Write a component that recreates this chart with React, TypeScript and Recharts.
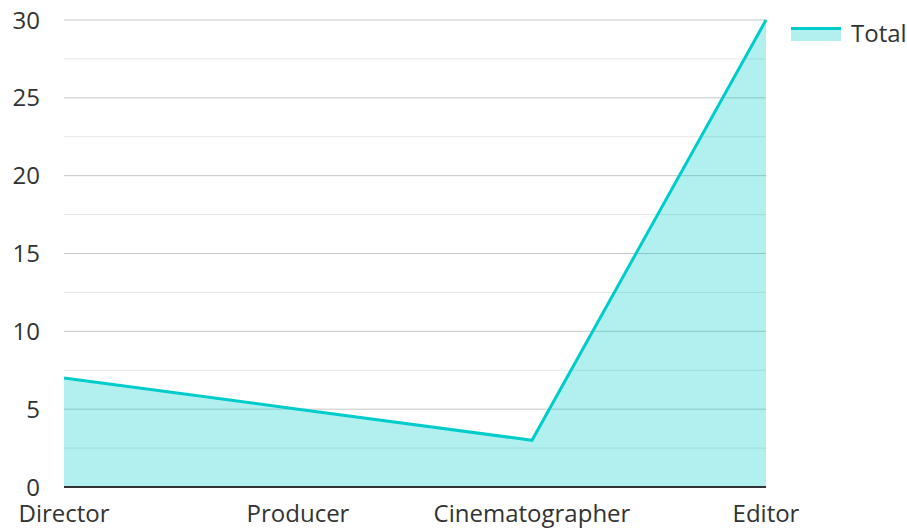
import { AreaChart, Area, XAxis, YAxis, CartesianGrid, Legend } from 'recharts';

const roles = ['Director', 'Producer', 'Cinematographer', 'Editor'];
const totals = [7, 5, 3, 30];
// major ticks every 5, light minor lines halfway between
const yTicks = [0, 2.5, 5, 7.5, 10, 12.5, 15, 17.5, 20, 22.5, 25, 27.5, 30];

const data = roles.map((role, i) => ({ role, Total: totals[i] }));

const LINE = '#00cccc';
const FONT = '"Open Sans", "Noto Sans", sans-serif';

function TotalLegend() {
    return (
        <div style={{ display: 'flex', alignItems: 'center', fontFamily: FONT, fontSize: 24, color: '#333' }}>
            <svg width={50} height={16} style={{ marginRight: 10 }}>
                <rect x={0} y={4} width={50} height={12} fill={LINE} fillOpacity={0.3} />
                <rect x={0} y={2} width={50} height={3} fill={LINE} />
            </svg>
            <span>Total</span>
        </div>
    );
}

function gridLine(props: any) {
    const { x1, x2, y1, y2, index } = props;
    const isMinor = yTicks.length - 1 - index;
    return (
        <line
            key={`g-${index}`}
            x1={x1}
            x2={x2}
            y1={y1}
            y2={y2}
            stroke={yTicks[index] % 5 === 0 ? '#c6c6c6' : '#e4e4e4'}
            strokeWidth={1}
            data-m={isMinor}
        />
    );
}

export default function App() {
    return (
        <div style={{ position: 'absolute', left: 0, top: 0, width: 907, height: 528, background: '#fff' }}>
            <AreaChart
                width={907}
                height={528}
                data={data}
                margin={{ top: 20, right: 25, bottom: 11, left: 0 }}
            >
                <XAxis
                    dataKey="role"
                    stroke="#333"
                    strokeWidth={2}
                    tickLine={false}
                    tickMargin={12}
                    interval={0}
                    tick={{ fill: '#333', fontSize: 24, fontFamily: FONT }}
                />
                <YAxis
                    width={64}
                    domain={[0, 30]}
                    ticks={yTicks}
                    interval={0}
                    axisLine={false}
                    tickLine={false}
                    tickMargin={18}
                    tickFormatter={(v: number) => (v % 5 === 0 ? String(v) : '')}
                    tick={{ fill: '#333', fontSize: 24, fontFamily: FONT }}
                />
                <CartesianGrid vertical={false} horizontal={gridLine} />
                <Area
                    type="linear"
                    dataKey="Total"
                    stroke={LINE}
                    strokeWidth={3}
                    fill={LINE}
                    fillOpacity={0.3}
                    isAnimationActive={false}
                />
                <Legend
                    layout="vertical"
                    verticalAlign="top"
                    align="right"
                    width={116}
                    wrapperStyle={{ right: 0, top: 16 }}
                    content={<TotalLegend />}
                />
            </AreaChart>
        </div>
    );
}
